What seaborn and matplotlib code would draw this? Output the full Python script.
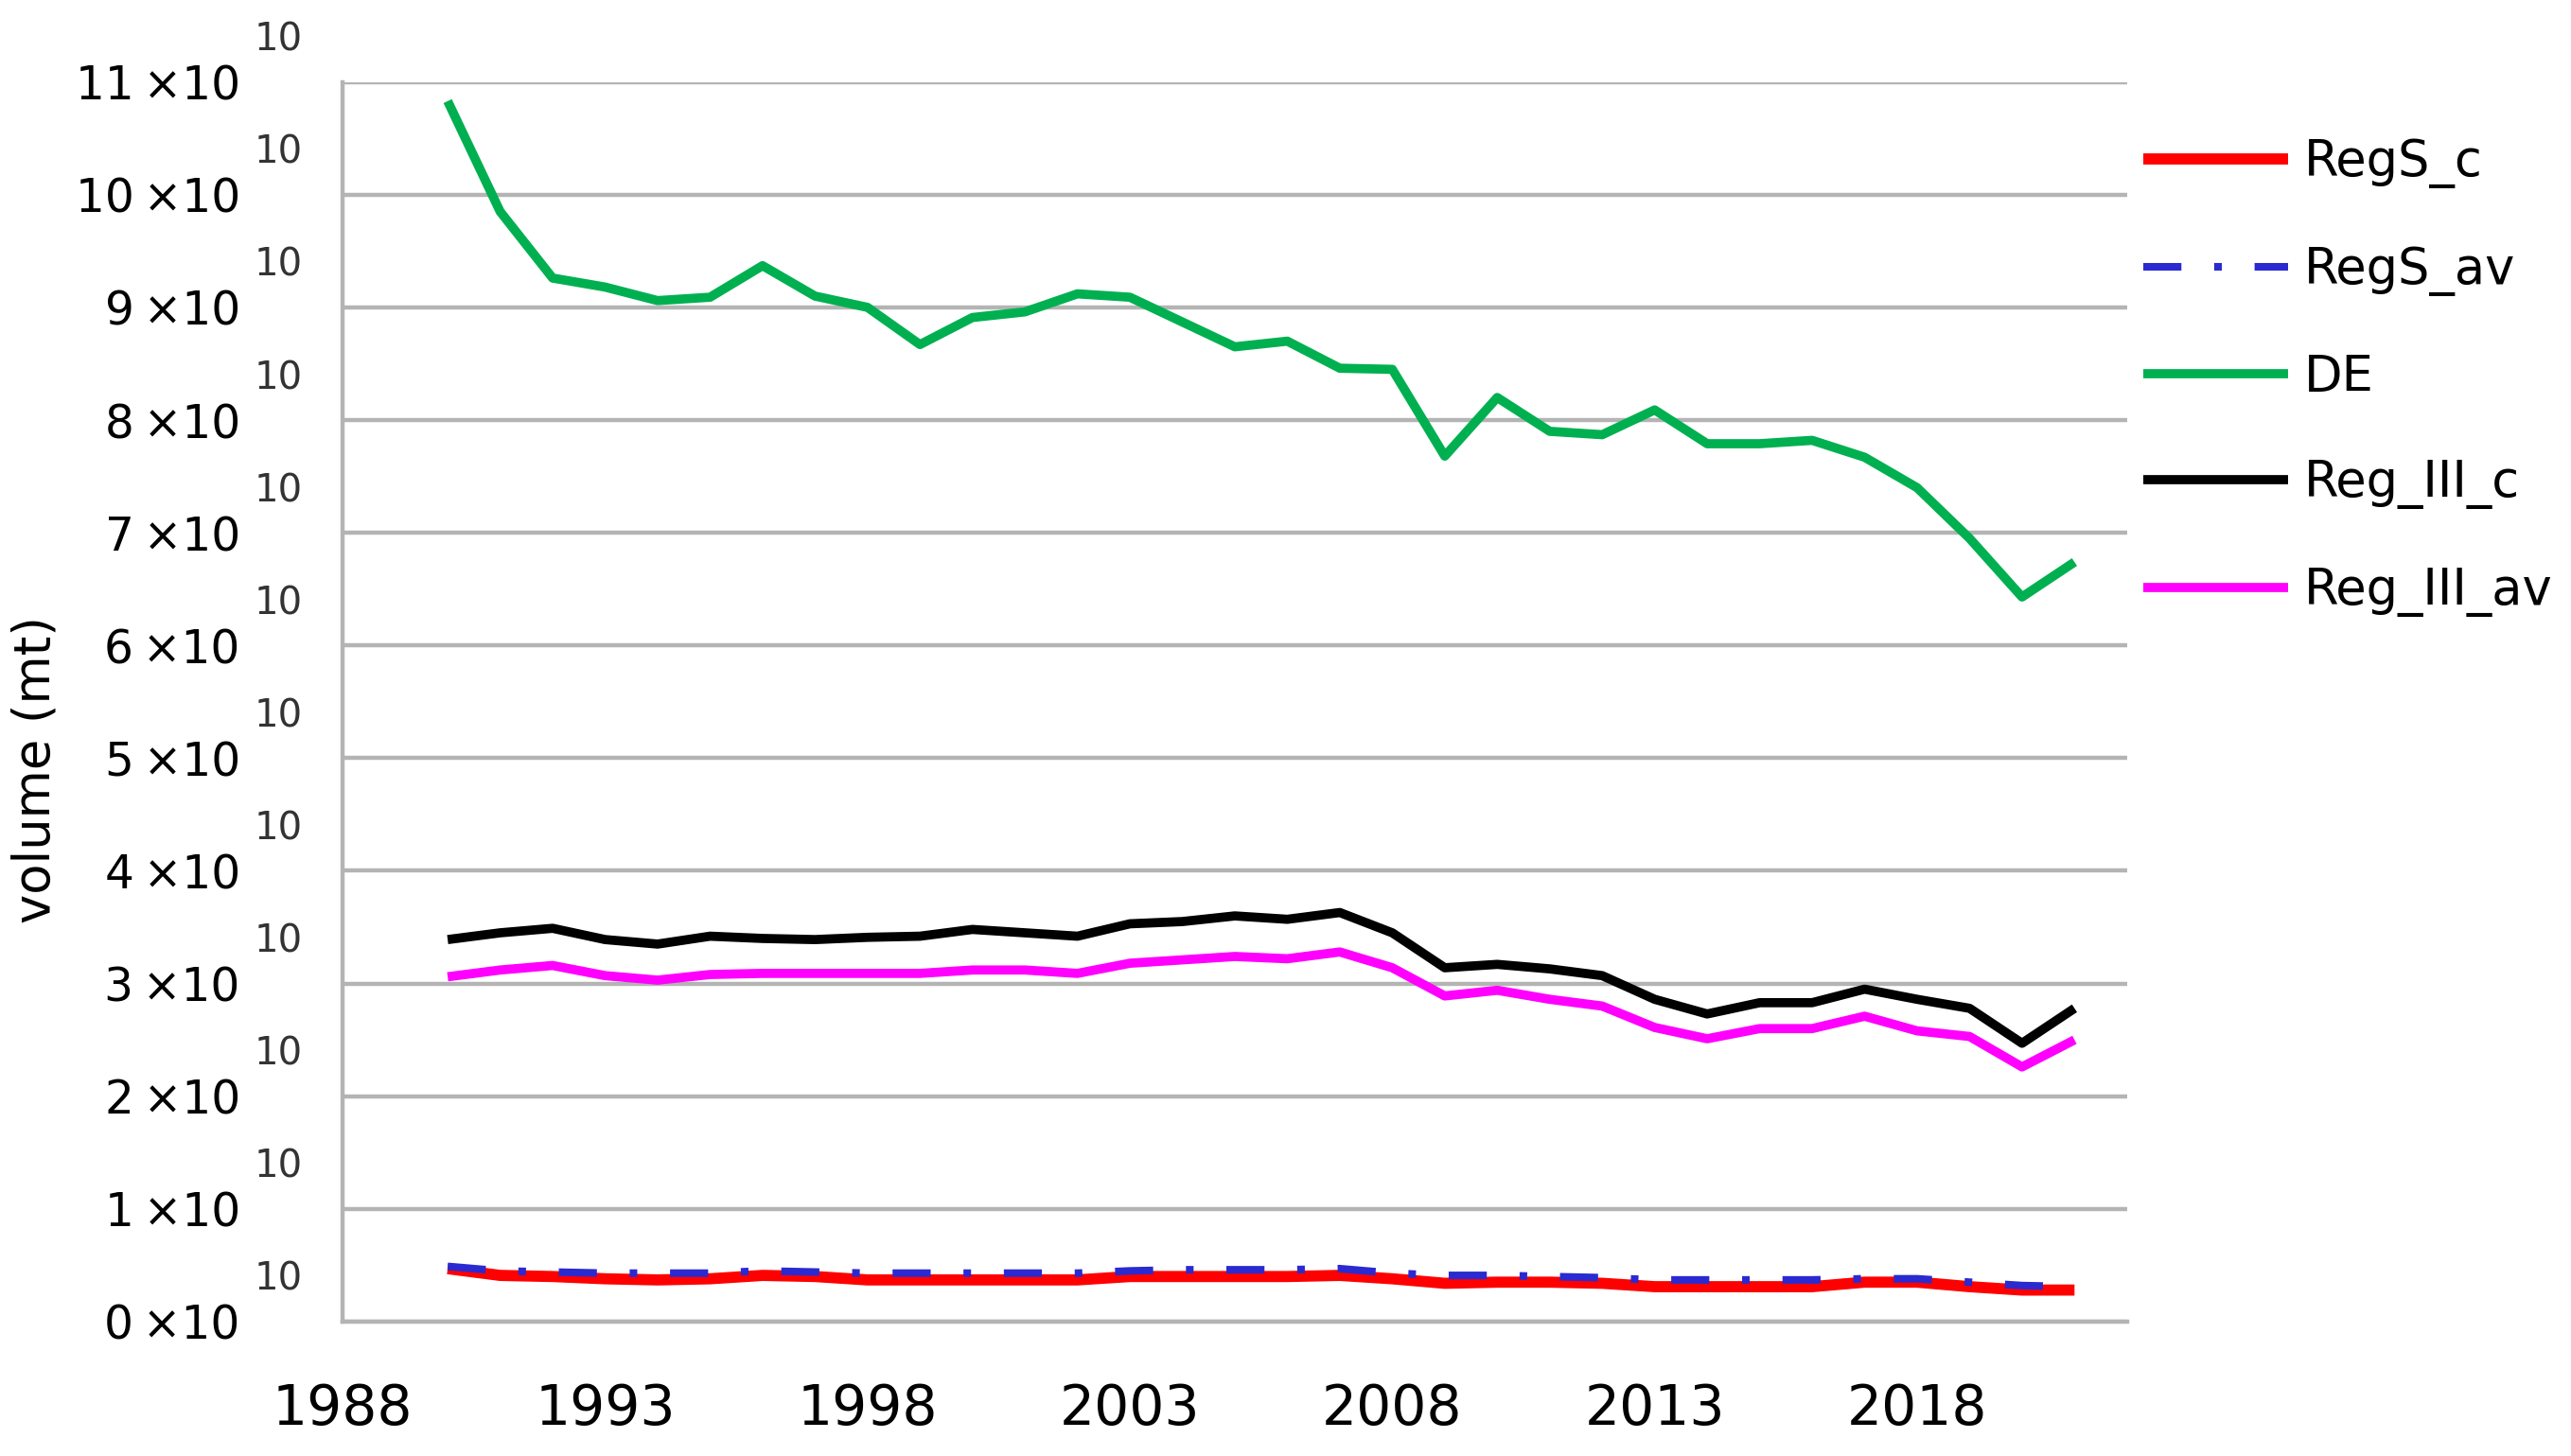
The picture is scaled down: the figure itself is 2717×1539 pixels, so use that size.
import numpy as np
import pandas as pd
import seaborn as sns
import matplotlib.pyplot as plt

# -------------------------------
# DATA (volumes in units of 1e10 mt)
# -------------------------------
years = list(range(1990, 2022))

regs_c = [0.47, 0.41, 0.40, 0.38, 0.37, 0.38, 0.41, 0.40, 0.37, 0.37, 0.37, 0.37,
          0.37, 0.40, 0.40, 0.40, 0.40, 0.41, 0.38, 0.34, 0.35, 0.35, 0.34, 0.31,
          0.31, 0.31, 0.31, 0.35, 0.35, 0.31, 0.28, 0.28]
regs_av = [0.49, 0.45, 0.44, 0.43, 0.43, 0.43, 0.45, 0.44, 0.43, 0.43, 0.43, 0.43,
           0.43, 0.45, 0.46, 0.46, 0.46, 0.47, 0.43, 0.41, 0.41, 0.40, 0.39, 0.37,
           0.37, 0.37, 0.37, 0.38, 0.38, 0.35, 0.32, 0.31]
de = [10.83, 9.85, 9.26, 9.18, 9.06, 9.09, 9.37, 9.10, 9.00, 8.67, 8.91, 8.96,
      9.12, 9.09, 8.87, 8.65, 8.70, 8.46, 8.45, 7.68, 8.20, 7.90, 7.87, 8.09,
      7.79, 7.79, 7.82, 7.67, 7.40, 6.95, 6.43, 6.74]
reg3_c = [3.39, 3.45, 3.49, 3.39, 3.35, 3.42, 3.40, 3.39, 3.41, 3.42, 3.48, 3.45,
          3.42, 3.53, 3.55, 3.60, 3.57, 3.63, 3.45, 3.14, 3.17, 3.13, 3.07, 2.86,
          2.73, 2.83, 2.83, 2.95, 2.86, 2.78, 2.47, 2.78]
reg3_av = [3.06, 3.12, 3.16, 3.07, 3.03, 3.08, 3.09, 3.09, 3.09, 3.09, 3.12, 3.12,
           3.09, 3.18, 3.21, 3.24, 3.22, 3.28, 3.14, 2.89, 2.94, 2.86, 2.80, 2.61,
           2.51, 2.60, 2.60, 2.71, 2.58, 2.53, 2.26, 2.50]

series_names = ["RegS_c", "RegS_av", "DE", "Reg_III_c", "Reg_III_av"]
series_values = [regs_c, regs_av, de, reg3_c, reg3_av]

y_ticks = list(range(0, 12))
x_ticks = [1988, 1993, 1998, 2003, 2008, 2013, 2018]

# -------------------------------
# STYLE
# -------------------------------
sns.set_style("white")
plt.rcParams['font.family'] = ['DejaVu Sans']

GRID = "#b4b4b4"
styles = {
    "RegS_c": dict(color="#ff0000", linewidth=8.5),
    "RegS_av": dict(color="#2a2ad0", linewidth=5.8, linestyle=(0, (5, 4.3, 1, 4.3))),
    "DE": dict(color="#00b050", linewidth=7),
    "Reg_III_c": dict(color="#000000", linewidth=7),
    "Reg_III_av": dict(color="#ff00ff", linewidth=7),
}

fig = plt.figure(figsize=(27.17, 15.39), dpi=100)
ax = fig.add_axes([0.1333, 0.0923, 0.694, 0.8514])

for name, vals in zip(series_names, series_values):
    df = pd.DataFrame({"year": years, "volume": np.array(vals) * 1e10})
    sns.lineplot(data=df, x="year", y="volume", ax=ax, label=name,
                 solid_capstyle="butt", dash_capstyle="butt", **styles[name])

ax.set_xlim(1988, 2022)
ax.set_ylim(0, 11e10)
ax.set_xticks(x_ticks)
ax.set_xticklabels([str(t) for t in x_ticks], fontsize=42, color="black")
ax.set_yticks([t * 1e10 for t in y_ticks])
ax.set_yticklabels(["%d\u2009\u00d710" % t for t in y_ticks], fontsize=35, color="black")

# superscript exponents next to each y tick label
for t in y_ticks:
    ax.annotate("10", xy=(0, t * 1e10), xycoords=("axes fraction", "data"),
                xytext=(-94, 44), textcoords="offset pixels",
                ha="left", va="center", fontsize=29, color="#333333")

ax.grid(axis="y", color=GRID, linewidth=3.2)
ax.set_axisbelow(True)
for side in ["top", "right"]:
    ax.spines[side].set_visible(False)
for side in ["left", "bottom"]:
    ax.spines[side].set_color(GRID)
    ax.spines[side].set_linewidth(3.2)
ax.tick_params(axis="y", direction="out", length=15, width=3.2, color=GRID, pad=63)
ax.tick_params(axis="x", direction="out", length=14, width=3.2, color=GRID, pad=32)

ax.set_xlabel("")
ax.set_ylabel("")
fig.text(38 / 2717, 1 - 814 / 1539, "volume (mt)", rotation=90,
         ha="center", va="center", fontsize=38, color="black")

leg = ax.legend(loc="upper left", bbox_to_anchor=(0.8336, 0.9055),
                bbox_transform=fig.transFigure, frameon=False, fontsize=38,
                handlelength=2.9, handletextpad=0.32, labelspacing=1.13,
                borderpad=0, borderaxespad=0)
for txt in leg.get_texts():
    txt.set_color("black")

fig.savefig("out.png", dpi=100)
